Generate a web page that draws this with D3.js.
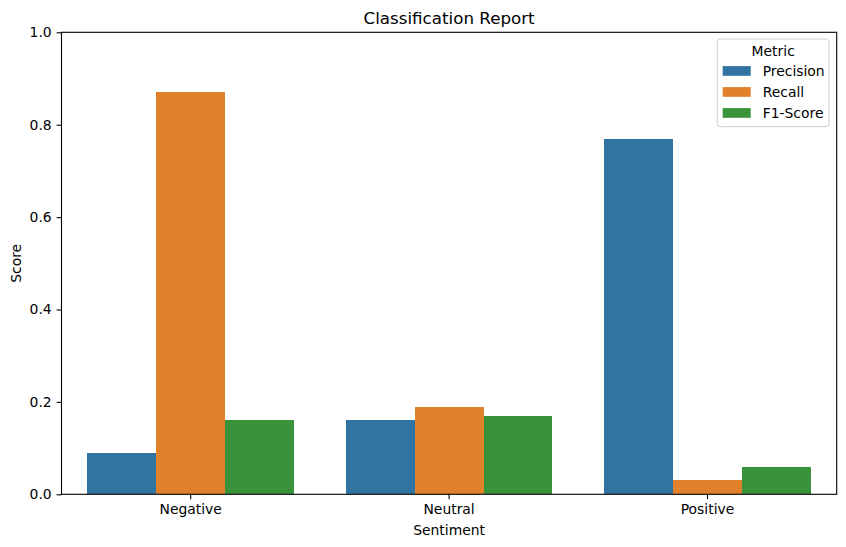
<!DOCTYPE html>
<html><head><meta charset="utf-8">
<script src="https://cdn.jsdelivr.net/npm/d3@7"></script>
<style>body{margin:0;background:#fff}svg{display:block;font-family:"DejaVu Sans",sans-serif}</style>
</head><body><svg id="c" width="846" height="547"></svg>
<script>
const categories = ["Negative", "Neutral", "Positive"];
const metrics = ["Precision", "Recall", "F1-Score"];
const precision = [0.09, 0.16, 0.77];
const recall = [0.87, 0.19, 0.03];
const f1 = [0.16, 0.17, 0.06];
const yTicks = [0, 0.2, 0.4, 0.6, 0.8, 1.0];
const colors = ["#3274a1", "#e1812c", "#3a923a"];
const seriesValues = [precision, recall, f1];

const svg = d3.select("#c");
const m = {l: 61.5, r: 836.7, t: 32.3, b: 494.3};
const x = d3.scaleBand().domain(categories).range([m.l, m.r]).paddingInner(0).paddingOuter(0);
const xs = d3.scaleBand().domain(metrics).range([0, x.bandwidth() * 0.8]);
const y = d3.scaleLinear().domain([0, 1]).range([m.b, m.t]);

const rows = [];
categories.forEach((c, i) => metrics.forEach((k, j) => rows.push({c, k, j, v: seriesValues[j][i]})));

svg.append("g").attr("shape-rendering", "crispEdges").selectAll("rect").data(rows).join("rect")
  .attr("x", d => x(d.c) + x.bandwidth() * 0.1 + xs(d.k))
  .attr("width", xs.bandwidth())
  .attr("y", d => y(d.v))
  .attr("height", d => y(0) - y(d.v))
  .attr("fill", d => colors[d.j]);

const fs = 13.9;
const gx = svg.append("g").attr("transform", `translate(0,${m.b})`)
  .call(d3.axisBottom(x).tickSize(4.9).tickPadding(4.9).tickSizeOuter(0));
const gy = svg.append("g").attr("transform", `translate(${m.l},0)`)
  .call(d3.axisLeft(y).tickValues(yTicks).tickFormat(d3.format(".1f")).tickSize(4.9).tickPadding(4.9).tickSizeOuter(0));
[gx, gy].forEach(g => {
  g.select(".domain").remove();
  g.selectAll("line").attr("stroke", "#000").attr("stroke-width", 1.1);
  g.selectAll("text").attr("font-size", fs).attr("fill", "#000").attr("font-family", "DejaVu Sans");
});
// spines
svg.append("rect").attr("x", m.l).attr("y", m.t).attr("width", m.r - m.l).attr("height", m.b - m.t)
  .attr("fill", "none").attr("stroke", "#000").attr("stroke-width", 1.1);

svg.append("text").attr("x", (m.l + m.r) / 2).attr("y", 24).attr("text-anchor", "middle")
  .attr("font-size", 16.7).text("Classification Report");
svg.append("text").attr("x", (m.l + m.r) / 2).attr("y", 535).attr("text-anchor", "middle")
  .attr("font-size", fs).text("Sentiment");
svg.append("text").attr("transform", `translate(21,${(m.t + m.b) / 2}) rotate(-90)`).attr("text-anchor", "middle")
  .attr("font-size", fs).text("Score");

// legend
const lg = svg.append("g");
lg.append("rect").attr("x", 717.3).attr("y", 39).attr("width", 111.7).attr("height", 87.7)
  .attr("rx", 3).attr("fill", "#fff").attr("fill-opacity", 0.8).attr("stroke", "#ccc").attr("stroke-width", 1);
lg.append("text").attr("x", 773.2).attr("y", 56).attr("text-anchor", "middle").attr("font-size", fs).text("Metric");
metrics.forEach((k, j) => {
  const cy = 71 + j * 21;
  lg.append("rect").attr("x", 722.7).attr("y", cy - 4.9).attr("width", 28).attr("height", 9.7).attr("fill", colors[j]);
  lg.append("text").attr("x", 762.7).attr("y", cy + 5).attr("font-size", fs).text(k);
});
</script></body></html>
